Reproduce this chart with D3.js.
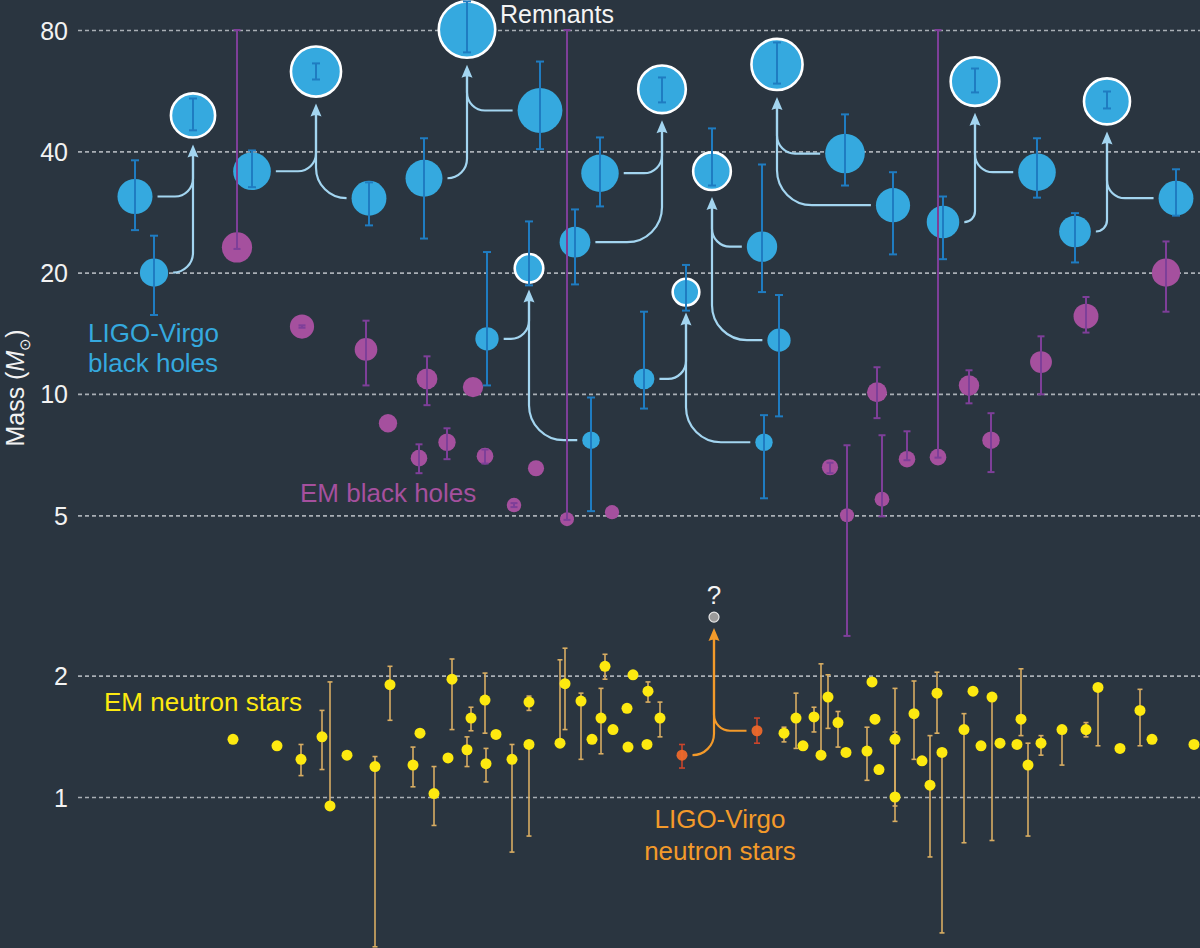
<!DOCTYPE html>
<html>
<head>
<meta charset="utf-8">
<script src="https://cdn.jsdelivr.net/npm/d3@7"></script>
<style>
  html, body { margin: 0; padding: 0; background: #2a3540; }
  svg { display: block; }
</style>
</head>
<body>
<div id="chart"></div>
<script>
// Masses in solar masses, x = catalogue slot (arbitrary order along the plot)
var massTicks = [1, 2, 5, 10, 20, 40, 80];

// LIGO-Virgo binary black holes: first component, second component, remnant
var bbhFirst = [
  {x: 13.5, m: 30.9, hi: 38.0, lo: 25.5},
  {x: 25.2, m: 35.7, hi: 40.2, lo: 32.6},
  {x: 42.4, m: 34.3, hi: 43.1, lo: 24.3},
  {x: 48.7, m: 13.7, hi: 22.5, lo: 10.5},
  {x: 60.0, m: 35.3, hi: 43.3, lo: 29.2},
  {x: 64.4, m: 10.9, hi: 16.0, lo: 9.2},
  {x: 76.2, m: 23.2, hi: 37.1, lo: 17.9},
  {x: 84.5, m: 39.5, hi: 49.4, lo: 32.9},
  {x: 94.3, m: 26.7, hi: 30.9, lo: 21.6},
  {x: 107.5, m: 25.3, hi: 28.1, lo: 21.2}
];
var bbhSecond = [
  {x: 15.4, m: 20.0, hi: 24.7, lo: 15.7},
  {x: 36.9, m: 30.6, hi: 33.5, lo: 26.2},
  {x: 54.0, m: 50.5, hi: 66.8, lo: 40.5},
  {x: 59.1, m: 7.68, hi: 9.8, lo: 5.12},
  {x: 57.5, m: 23.8, hi: 28.7, lo: 18.7},
  {x: 76.4, m: 7.59, hi: 8.86, lo: 5.51},
  {x: 77.9, m: 13.6, hi: 17.6, lo: 8.8},
  {x: 89.3, m: 29.4, hi: 35.5, lo: 22.2},
  {x: 103.7, m: 35.5, hi: 43.1, lo: 30.7},
  {x: 117.6, m: 30.6, hi: 36.1, lo: 27.7}
];
var bbhRemnant = [
  {x: 19.3, m: 49.1, hi: 54.1, lo: 45.1},
  {x: 31.6, m: 63.1, hi: 66.1, lo: 60.3},
  {x: 46.7, m: 80.2, hi: 94.2, lo: 70.4},
  {x: 52.9, m: 20.5, hi: 26.8, lo: 18.6},
  {x: 66.2, m: 57.0, hi: 61.0, lo: 52.9},
  {x: 68.6, m: 17.9, hi: 20.9, lo: 16.1},
  {x: 71.2, m: 35.7, hi: 45.6, lo: 32.9},
  {x: 77.7, m: 65.7, hi: 74.5, lo: 58.9},
  {x: 97.5, m: 59.6, hi: 64.2, lo: 56.0},
  {x: 110.7, m: 53.2, hi: 56.3, lo: 51.1}
];

// Electromagnetically observed black holes
var emBlackHoles = [
  {x: 23.7, m: 23.1, hi: 80, lo: 22.9},
  {x: 30.2, m: 14.7, hi: 14.8, lo: 14.6},
  {x: 36.6, m: 12.9, hi: 15.2, lo: 10.5},
  {x: 38.8, m: 8.46},
  {x: 42.7, m: 10.9, hi: 12.4, lo: 9.38},
  {x: 47.3, m: 10.4},
  {x: 41.9, m: 6.93, hi: 7.50, lo: 6.36},
  {x: 44.7, m: 7.59, hi: 8.22, lo: 6.89},
  {x: 48.5, m: 7.01, hi: 7.28, lo: 6.72},
  {x: 53.6, m: 6.54},
  {x: 51.4, m: 5.30, hi: 5.36, lo: 5.24},
  {x: 56.7, m: 4.89, hi: 80, lo: 4.87},
  {x: 61.2, m: 5.09},
  {x: 83.0, m: 6.58, hi: 6.75, lo: 6.36},
  {x: 84.7, m: 5.00, hi: 7.46, lo: 2.51},
  {x: 87.7, m: 10.1, hi: 11.65, lo: 8.71},
  {x: 88.2, m: 5.48, hi: 7.90, lo: 4.97},
  {x: 90.7, m: 6.89, hi: 8.08, lo: 6.85},
  {x: 93.8, m: 6.97, hi: 80, lo: 6.95},
  {x: 96.9, m: 10.5, hi: 11.45, lo: 9.48},
  {x: 99.1, m: 7.68, hi: 8.96, lo: 6.40},
  {x: 104.1, m: 12.0, hi: 13.9, lo: 9.98},
  {x: 108.6, m: 15.6, hi: 17.4, lo: 14.2},
  {x: 116.6, m: 20.0, hi: 23.9, lo: 16.0}
];

// Electromagnetically observed neutron stars
var emNeutronStars = [
  {x: 23.3, m: 1.39}, {x: 27.7, m: 1.34},
  {x: 30.1, m: 1.24, hi: 1.35, lo: 1.13},
  {x: 32.2, m: 1.41, hi: 1.64, lo: 1.17},
  {x: 33.0, m: 0.95, hi: 1.93, lo: 0.95},
  {x: 34.7, m: 1.27},
  {x: 37.5, m: 1.19, hi: 1.26, lo: 0.425},
  {x: 39.0, m: 1.90, hi: 2.11, lo: 1.55},
  {x: 41.3, m: 1.20, hi: 1.33, lo: 1.06},
  {x: 42.0, m: 1.44},
  {x: 43.4, m: 1.02, hi: 1.19, lo: 0.85},
  {x: 44.8, m: 1.25},
  {x: 45.2, m: 1.96, hi: 2.20, lo: 1.47},
  {x: 46.7, m: 1.31, hi: 1.41, lo: 1.19},
  {x: 47.1, m: 1.57, hi: 1.67, lo: 1.46},
  {x: 48.5, m: 1.74, hi: 2.03, lo: 1.44},
  {x: 48.6, m: 1.21, hi: 1.32, lo: 1.09},
  {x: 49.6, m: 1.43},
  {x: 51.2, m: 1.24, hi: 1.35, lo: 0.73},
  {x: 52.9, m: 1.72, hi: 1.78, lo: 1.64},
  {x: 52.9, m: 1.35, hi: 1.36, lo: 0.80},
  {x: 56.0, m: 1.36, hi: 2.19, lo: 1.36},
  {x: 56.5, m: 1.91, hi: 2.34, lo: 1.47},
  {x: 58.1, m: 1.73, hi: 1.81, lo: 1.24},
  {x: 59.2, m: 1.39},
  {x: 60.1, m: 1.57, hi: 1.86, lo: 1.28},
  {x: 60.5, m: 2.11, hi: 2.26, lo: 1.96},
  {x: 61.3, m: 1.47}, {x: 62.7, m: 1.66}, {x: 62.8, m: 1.33},
  {x: 63.3, m: 2.01}, {x: 64.7, m: 1.35},
  {x: 64.8, m: 1.83, hi: 1.93, lo: 1.72},
  {x: 66.0, m: 1.57, hi: 1.72, lo: 1.41},
  {x: 78.4, m: 1.44, hi: 1.49, lo: 1.37},
  {x: 79.6, m: 1.57, hi: 1.81, lo: 1.32},
  {x: 80.3, m: 1.34},
  {x: 81.4, m: 1.58, hi: 1.67, lo: 1.45},
  {x: 82.1, m: 1.27, hi: 2.14, lo: 1.27},
  {x: 82.8, m: 1.77, hi: 2.01, lo: 1.48},
  {x: 83.8, m: 1.53, hi: 1.63, lo: 1.33},
  {x: 84.6, m: 1.29},
  {x: 86.7, m: 1.30, hi: 1.49, lo: 1.10},
  {x: 87.2, m: 1.93}, {x: 87.5, m: 1.56}, {x: 87.9, m: 1.17},
  {x: 89.5, m: 1.39, hi: 1.86, lo: 0.95},
  {x: 89.5, m: 1.00, hi: 1.45, lo: 0.87},
  {x: 91.4, m: 1.61, hi: 1.94, lo: 1.24},
  {x: 92.2, m: 1.23},
  {x: 93.0, m: 1.07, hi: 1.42, lo: 0.71},
  {x: 93.7, m: 1.81, hi: 2.04, lo: 1.44},
  {x: 94.2, m: 1.29, hi: 1.29, lo: 0.46},
  {x: 96.4, m: 1.47, hi: 1.61, lo: 0.77},
  {x: 97.3, m: 1.83}, {x: 98.1, m: 1.34},
  {x: 99.2, m: 1.77, hi: 1.77, lo: 0.78},
  {x: 100.0, m: 1.36}, {x: 101.7, m: 1.35},
  {x: 102.1, m: 1.56, hi: 2.08, lo: 1.42},
  {x: 102.8, m: 1.20, hi: 1.36, lo: 0.80},
  {x: 104.1, m: 1.36, hi: 1.42, lo: 1.27},
  {x: 106.2, m: 1.47, hi: 1.47, lo: 1.20},
  {x: 108.6, m: 1.47, hi: 1.53, lo: 1.41},
  {x: 109.8, m: 1.87, hi: 1.87, lo: 1.34},
  {x: 112.0, m: 1.32},
  {x: 114.0, m: 1.64, hi: 1.85, lo: 1.34},
  {x: 115.2, m: 1.39}, {x: 119.4, m: 1.35}
];

// LIGO-Virgo binary neutron star and its (uncertain) remnant
var ligoNeutronStars = [
  {x: 68.2, m: 1.27, hi: 1.35, lo: 1.18},
  {x: 75.7, m: 1.46, hi: 1.57, lo: 1.36}
];
var nsRemnant = [{x: 71.4, m: 2.795}];

// ---------------------------------------------------------------
var svgWidth = 1200;
var svgHeight = 948;
var gridLeft = 78;
var font = "'Helvetica Neue', Helvetica, Arial, 'Liberation Sans', sans-serif";

var svg = d3.select("#chart")
  .append("svg")
  .attr("width", svgWidth)
  .attr("height", svgHeight)
  .attr("font-family", font);

svg.append("rect")
  .attr("width", svgWidth)
  .attr("height", svgHeight)
  .attr("fill", "#2a3540");

var xScale = d3.scaleLinear().domain([0, 120]).range([0, svgWidth]);
var yScale = d3.scaleLog().base(2).domain([1, 80]).range([797, 30]);
var rScale = d3.scaleSqrt().domain([0, 80]).range([0, 28.2]);
var nsRadius = 5.5;

// grid + tick labels
var yAxis = d3.axisLeft(yScale)
  .tickValues(massTicks)
  .tickFormat(d3.format("d"))
  .tickSize(-(svgWidth - gridLeft))
  .tickPadding(10);

var axisG = svg.append("g")
  .attr("transform", `translate(${gridLeft},0)`)
  .call(yAxis);
axisG.select(".domain").remove();
axisG.attr("font-family", font);
axisG.selectAll(".tick line")
  .attr("stroke", "#a9afb5")
  .attr("stroke-width", 1.7)
  .attr("stroke-dasharray", "4,3");
axisG.selectAll(".tick text")
  .attr("fill", "#f2f2f2")
  .attr("font-size", 25)
  .attr("dy", "0.36em");

// y axis title
var title = svg.append("text")
  .attr("transform", "translate(24,388) rotate(-90)")
  .attr("text-anchor", "middle")
  .attr("fill", "#f2f2f2")
  .attr("font-size", 25);
title.append("tspan").text("Mass (");
title.append("tspan").attr("font-style", "italic").text("M");
title.append("tspan").attr("font-size", 15).attr("dy", 6).text("\u2299");
title.append("tspan").attr("dy", -6).text(")");

// connector path from a component into the vertical that leads to the remnant
function connectorPath(cx, cy, cr, rx, tipY, maxR) {
  var dir = rx > cx ? 1 : -1;
  var sx = cx + dir * (cr + 5);
  var R = Math.min(Math.abs(rx - sx), maxR);
  var sweep = dir > 0 ? 0 : 1;
  return "M" + sx + "," + cy +
    "H" + (rx - dir * R) +
    "A" + R + "," + R + " 0 0 " + sweep + " " + rx + "," + (cy - R) +
    "V" + (tipY + 9);
}
function arrowHead(rx, tipY) {
  return "M" + rx + "," + tipY + "L" + (rx - 5.5) + "," + (tipY + 13) +
    "Q" + rx + "," + (tipY + 10) + " " + (rx + 5.5) + "," + (tipY + 13) + "Z";
}

var linkG = svg.append("g");
bbhRemnant.forEach(function(rem, i) {
  var a = bbhFirst[i], b = bbhSecond[i];
  var rx = xScale(rem.x);
  var tipY = yScale(rem.m) + rScale(rem.m) + 7;
  [a, b].forEach(function(c) {
    var other = c === a ? b : a;
    var isLower = c.m < other.m;
    linkG.append("path")
      .attr("d", connectorPath(xScale(c.x), yScale(c.m), rScale(c.m), rx, tipY, isLower ? 35 : 18))
      .attr("fill", "none")
      .attr("stroke", "#a3d5f0")
      .attr("stroke-width", 2.2);
  });
  linkG.append("path")
    .attr("d", arrowHead(rx, tipY))
    .attr("fill", "#a3d5f0");
});

// NS merger connectors
(function() {
  var rem = nsRemnant[0];
  var rx = xScale(rem.x);
  var tipY = yScale(rem.m) + 5 + 6;
  var a = ligoNeutronStars[0], b = ligoNeutronStars[1];
  [a, b].forEach(function(c) {
    var other = c === a ? b : a;
    linkG.append("path")
      .attr("d", connectorPath(xScale(c.x), yScale(c.m), nsRadius, rx, tipY, c.m < other.m ? 22 : 16))
      .attr("fill", "none")
      .attr("stroke", "#f39a2a")
      .attr("stroke-width", 2.2);
  });
  linkG.append("path").attr("d", arrowHead(rx, tipY)).attr("fill", "#f39a2a");
})();

// generic error bars
function drawErrors(g, data, color, capHalf, width) {
  var withErr = data.filter(d => d.hi != null);
  g.selectAll(null).data(withErr).enter().append("line")
    .attr("x1", d => xScale(d.x)).attr("x2", d => xScale(d.x))
    .attr("y1", d => yScale(d.hi)).attr("y2", d => yScale(d.lo))
    .attr("stroke", color).attr("stroke-width", width);
  ["hi", "lo"].forEach(function(k) {
    g.selectAll(null).data(withErr).enter().append("line")
      .attr("x1", d => xScale(d.x) - capHalf).attr("x2", d => xScale(d.x) + capHalf)
      .attr("y1", d => yScale(d[k])).attr("y2", d => yScale(d[k]))
      .attr("stroke", color).attr("stroke-width", width);
  });
}

// LIGO-Virgo black holes
var bhG = svg.append("g");
var components = bbhFirst.concat(bbhSecond);
bhG.selectAll(null).data(components).enter().append("circle")
  .attr("cx", d => xScale(d.x))
  .attr("cy", d => yScale(d.m))
  .attr("r", d => rScale(d.m))
  .attr("fill", "#35a9df");
bhG.selectAll(null).data(bbhRemnant).enter().append("circle")
  .attr("cx", d => xScale(d.x))
  .attr("cy", d => yScale(d.m))
  .attr("r", d => rScale(d.m))
  .attr("fill", "#35a9df")
  .attr("stroke", "#ffffff")
  .attr("stroke-width", 2.6);
drawErrors(bhG, components.concat(bbhRemnant), "#1f7cc1", 4, 2);

// EM black holes
var emG = svg.append("g");
emG.selectAll(null).data(emBlackHoles).enter().append("circle")
  .attr("cx", d => xScale(d.x))
  .attr("cy", d => yScale(d.m))
  .attr("r", d => rScale(d.m))
  .attr("fill", "#a5509e");
drawErrors(emG, emBlackHoles, "#7e3f99", 3.5, 2);

// neutron stars
var nsG = svg.append("g");
drawErrors(nsG, emNeutronStars, "#d8ad62", 2.5, 1.6);
nsG.selectAll(null).data(emNeutronStars).enter().append("circle")
  .attr("cx", d => xScale(d.x))
  .attr("cy", d => yScale(d.m))
  .attr("r", nsRadius)
  .attr("fill", "#fde910");

drawErrors(nsG, ligoNeutronStars, "#c9452b", 3, 1.6);
nsG.selectAll(null).data(ligoNeutronStars).enter().append("circle")
  .attr("cx", d => xScale(d.x))
  .attr("cy", d => yScale(d.m))
  .attr("r", nsRadius)
  .attr("fill", "#f26a2a")
  .attr("fill-opacity", 0.92);

nsG.selectAll(null).data(nsRemnant).enter().append("circle")
  .attr("cx", d => xScale(d.x))
  .attr("cy", d => yScale(d.m))
  .attr("r", 5)
  .attr("fill", "#9b9b9b")
  .attr("stroke", "#e6e6e6")
  .attr("stroke-width", 1.2);

// labels
function label(txt, x, y, color, anchor, size) {
  svg.append("text")
    .attr("x", x).attr("y", y)
    .attr("fill", color)
    .attr("font-size", size || 26)
    .attr("text-anchor", anchor || "start")
    .text(txt);
}
label("Remnants", 500, 23, "#f4f4f4", "start", 25);
label("LIGO-Virgo", 88, 342, "#35a9df");
label("black holes", 88, 372, "#35a9df");
label("EM black holes", 300, 502, "#a5509e");
label("EM neutron stars", 104, 711, "#fde910");
label("LIGO-Virgo", 720, 828, "#f39a2a", "middle");
label("neutron stars", 720, 860, "#f39a2a", "middle");
label("?", xScale(nsRemnant[0].x), yScale(nsRemnant[0].m) - 13, "#f4f4f4", "middle");
</script>
</body>
</html>
